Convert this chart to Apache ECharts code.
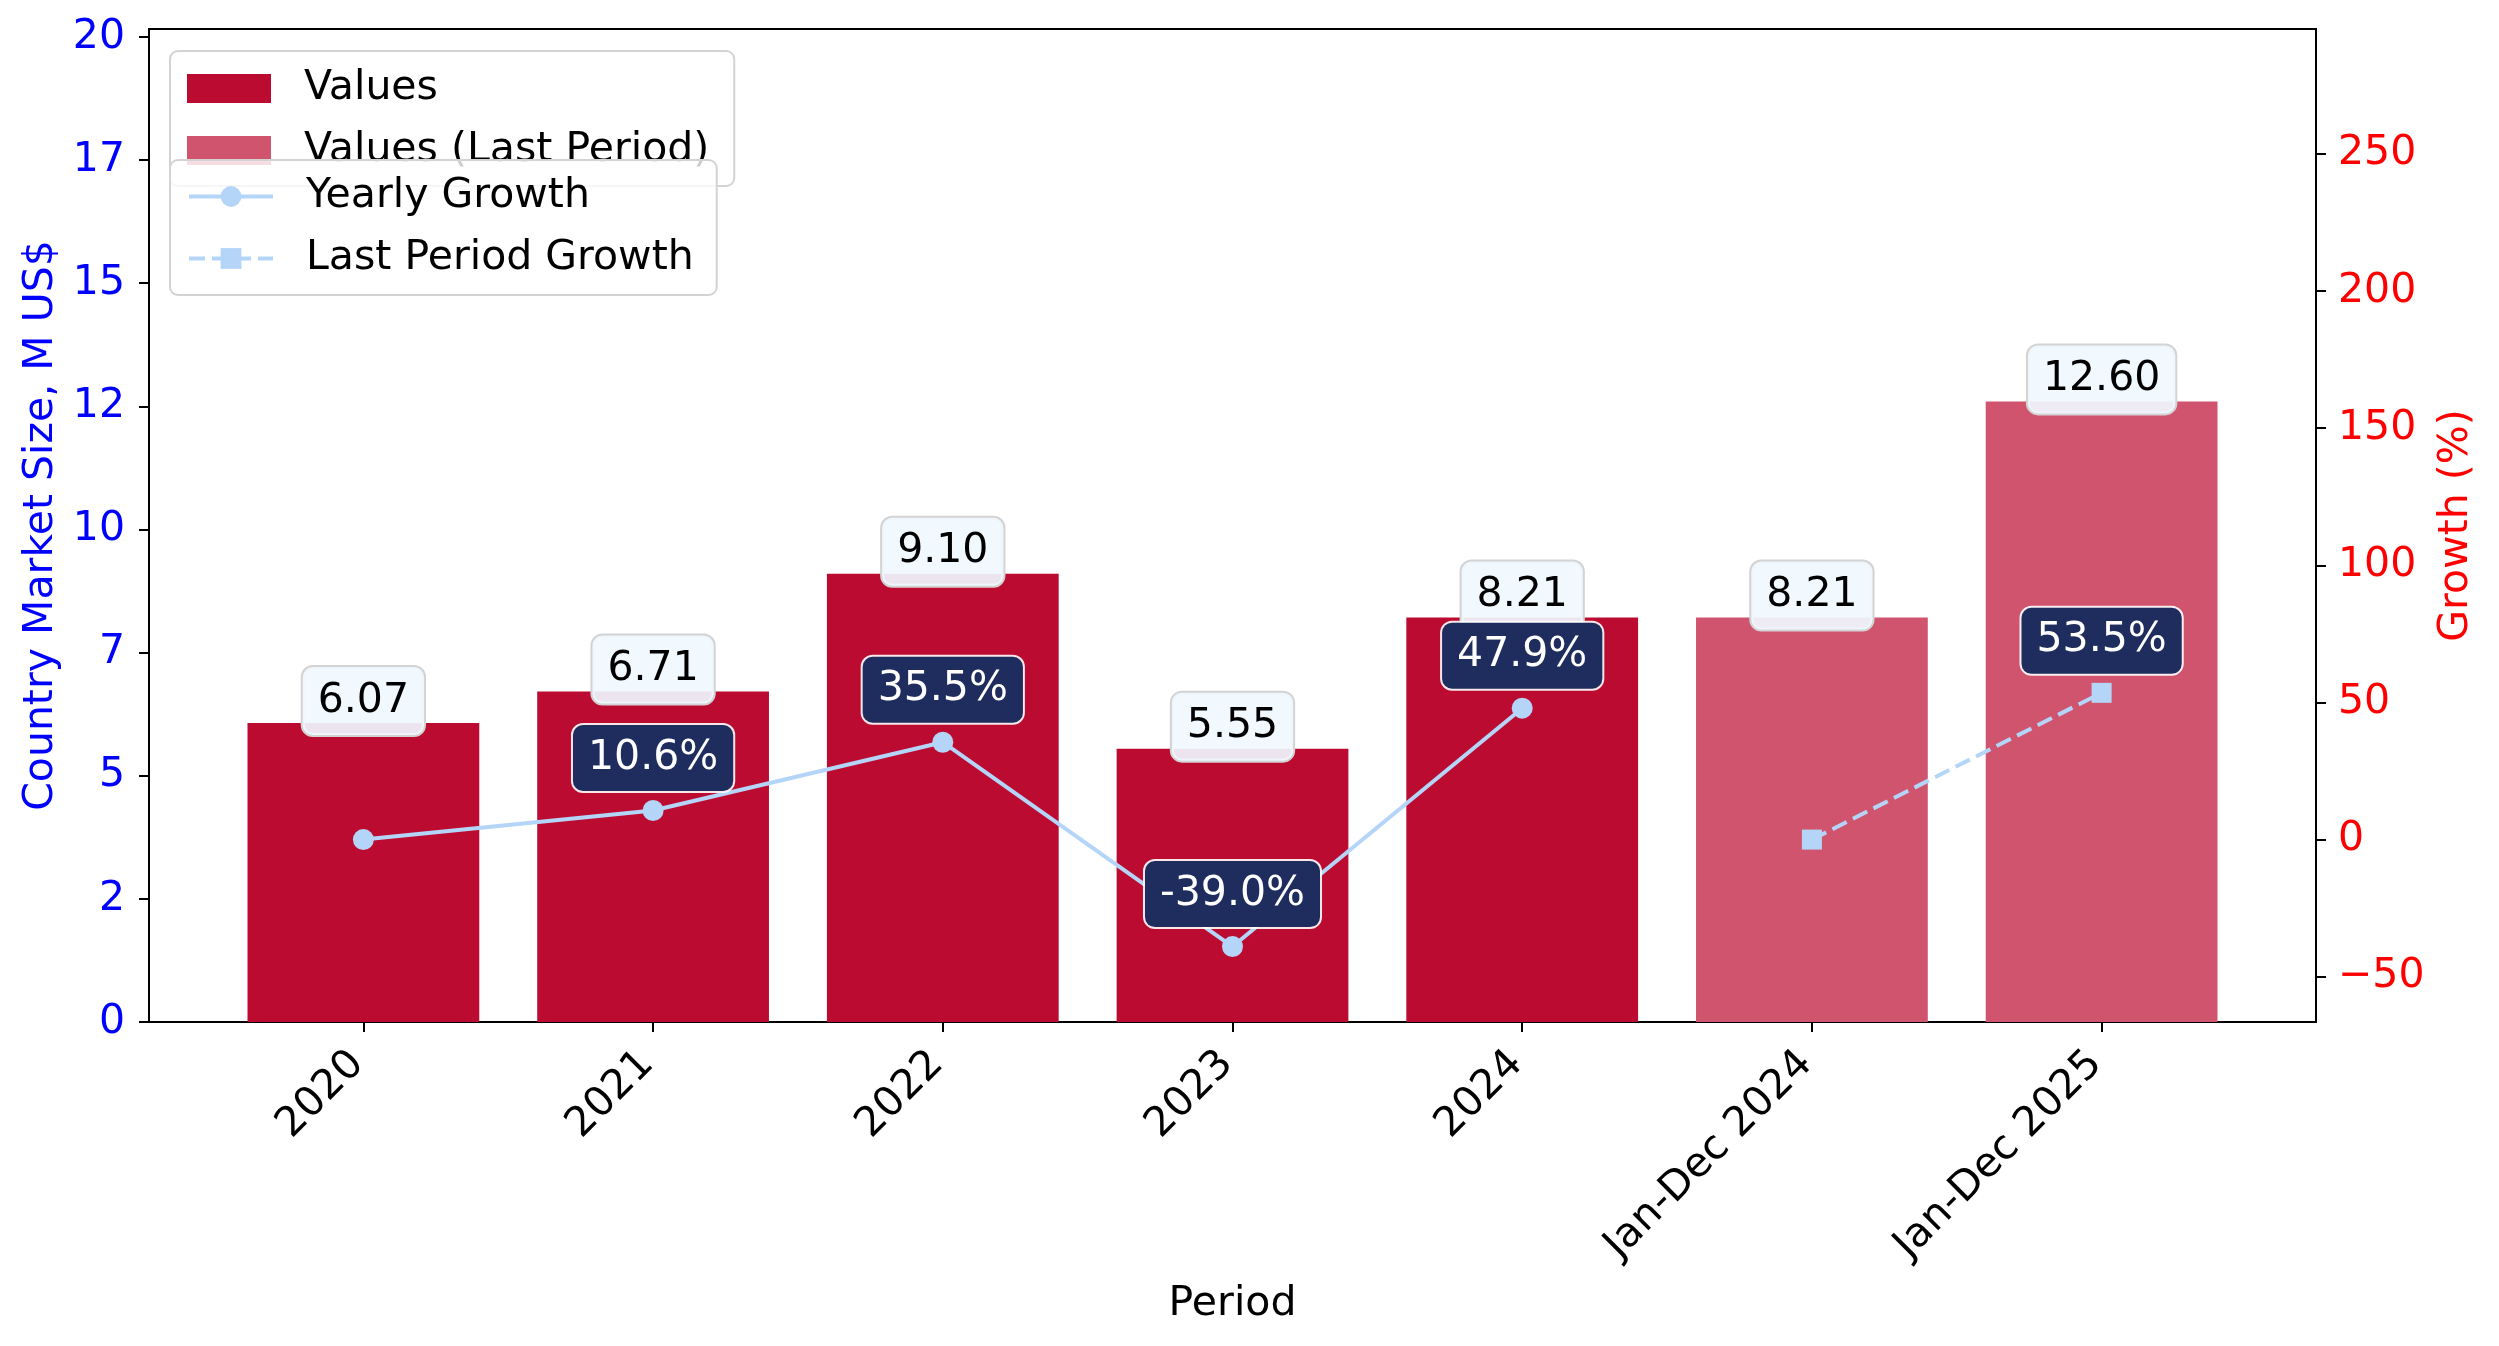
<!DOCTYPE html>
<html>
<head>
<meta charset="utf-8">
<title>Country Market Size</title>
<script src="https://cdn.jsdelivr.net/npm/echarts@6/dist/echarts.min.js"></script>
<style>
  html, body { margin: 0; padding: 0; background: #fff; }
  #chart { width: 2499px; height: 1346px; }
</style>
</head>
<body>
<div id="chart"></div>
<script>
// data
const periods = ['2020', '2021', '2022', '2023', '2024', 'Jan-Dec 2024', 'Jan-Dec 2025'];
const values = [6.07, 6.71, 9.10, 5.55, 8.21, null, null];
const lastValues = [null, null, null, null, null, 8.21, 12.60];
const yearlyGrowth = [0, 10.6, 35.5, -39.0, 47.9, null, null];
const lastGrowth = [null, null, null, null, null, 0, 53.5];
const leftTicks = [0, 2.5, 5, 7.5, 10, 12.5, 15, 17.5, 20];
const rightTicks = [-50, 0, 50, 100, 150, 200, 250];

const font = 'DejaVu Sans';
const colors = {
  bar: '#bc0b31',
  barLast: '#d0546e',
  line: '#b4d5f8',
  badge: '#1f2c5e',
  left: '#0000ff',
  right: '#ff0000'
};

// matplotlib-like x range: bars of width 0.8 plus 5% margins
const xMin = -0.74;
const xMax = periods.length - 1 + 0.74;
const grid = { left: 149, right: 183, top: 29, bottom: 324 };
const plotWidth = 2499 - grid.left - grid.right;
const barWidth = plotWidth / (xMax - xMin) * 0.8;

const toPairs = arr => arr
  .map((v, i) => (v == null ? null : [i, v]))
  .filter(d => d !== null);

const growthPoints = arr => toPairs(arr).map(d => ({
  value: d,
  label: { show: d[1] !== 0 }
}));

const valueLabel = {
  show: true,
  position: 'top',
  distance: -12,
  formatter: p => p.value[1].toFixed(2),
  fontFamily: font,
  fontSize: 41,
  lineHeight: 42,
  color: '#000',
  backgroundColor: 'rgba(240, 248, 255, 0.92)',
  borderColor: '#d3d3d3',
  borderWidth: 2,
  borderRadius: 10,
  padding: [13, 15]
};

const growthLabel = {
  position: 'top',
  distance: 9,
  formatter: p => p.value[1].toFixed(1) + '%',
  fontFamily: font,
  fontSize: 41,
  lineHeight: 42,
  color: '#fff',
  backgroundColor: colors.badge,
  borderColor: 'rgba(255, 255, 255, 0.9)',
  borderWidth: 2,
  borderRadius: 10,
  padding: [12, 15]
};

const legendText = { fontFamily: font, fontSize: 41, color: '#000', padding: [0, 0, 0, 28] };

const chart = echarts.init(document.getElementById('chart'));

const option = {
  backgroundColor: '#fff',
  animation: false,
  textStyle: { fontFamily: font },
  grid: {
    left: grid.left,
    right: grid.right,
    top: grid.top,
    bottom: grid.bottom,
    show: true,
    borderColor: '#000',
    borderWidth: 2,
    backgroundColor: 'transparent'
  },
  legend: [
    {
      data: ['Values', 'Values (Last Period)'],
      orient: 'vertical',
      left: 170,
      top: 51,
      z: 4,
      itemWidth: 84,
      itemHeight: 29,
      itemGap: 21,
      padding: [17, 25, 15, 17],
      backgroundColor: '#fff',
      borderColor: '#d3d3d3',
      borderWidth: 2,
      borderRadius: 8,
      icon: 'rect',
      textStyle: legendText
    },
    {
      data: ['Yearly Growth', 'Last Period Growth'],
      orient: 'vertical',
      left: 170,
      top: 160,
      z: 6,
      itemWidth: 84,
      itemHeight: 26,
      itemGap: 21,
      padding: [16, 23, 16, 17],
      backgroundColor: 'rgba(255, 255, 255, 0.8)',
      borderColor: '#d3d3d3',
      borderWidth: 2,
      borderRadius: 8,
      lineStyle: { width: 4 },
      textStyle: legendText
    }
  ],
  xAxis: {
    type: 'value',
    min: xMin,
    max: xMax,
    name: 'Period',
    nameLocation: 'middle',
    nameGap: 262,
    nameTextStyle: { fontFamily: font, fontSize: 41, color: '#000' },
    splitLine: { show: false },
    axisLine: { show: true, onZero: false, lineStyle: { color: '#000', width: 2 } },
    axisTick: {
      show: true,
      length: 10,
      lineStyle: { color: '#000', width: 2 },
      customValues: periods.map((p, i) => i)
    },
    axisLabel: {
      customValues: periods.map((p, i) => i),
      formatter: v => periods[Math.round(v)],
      rotate: 45,
      margin: 30,
      padding: [0, 8, 0, 0],
      fontFamily: font,
      fontSize: 41,
      color: '#000'
    }
  },
  yAxis: [
    {
      type: 'value',
      min: 0,
      max: 20.16,
      name: 'Country Market Size, M US$',
      nameLocation: 'middle',
      nameGap: 84,
      nameTextStyle: { fontFamily: font, fontSize: 41, color: colors.left },
      splitLine: { show: false },
      axisLine: { show: true, onZero: false, lineStyle: { color: '#000', width: 2 } },
      axisTick: {
        show: true,
        length: 10,
        lineStyle: { color: '#000', width: 2 },
        customValues: leftTicks
      },
      axisLabel: {
        customValues: leftTicks,
        formatter: v => String(Math.floor(v)),
        margin: 24,
        padding: [6, 0, 0, 0],
        fontFamily: font,
        fontSize: 41,
        color: colors.left
      }
    },
    {
      type: 'value',
      position: 'right',
      min: -66.5,
      max: 295.5,
      name: 'Growth (%)',
      nameLocation: 'middle',
      nameGap: 118,
      nameTextStyle: { fontFamily: font, fontSize: 41, color: colors.right },
      splitLine: { show: false },
      axisLine: { show: true, onZero: false, lineStyle: { color: '#000', width: 2 } },
      axisTick: {
        show: true,
        length: 10,
        lineStyle: { color: '#000', width: 2 },
        customValues: rightTicks
      },
      axisLabel: {
        customValues: rightTicks,
        formatter: v => (v < 0 ? '\u2212' + Math.abs(v) : String(v)),
        margin: 22,
        padding: [6, 0, 0, 0],
        fontFamily: font,
        fontSize: 41,
        color: colors.right
      }
    }
  ],
  series: [
    {
      name: 'Values',
      type: 'bar',
      data: toPairs(values),
      barWidth: barWidth,
      barGap: '-100%',
      itemStyle: { color: colors.bar },
      label: valueLabel,
      z: 2
    },
    {
      name: 'Values (Last Period)',
      type: 'bar',
      data: toPairs(lastValues),
      barWidth: barWidth,
      barGap: '-100%',
      itemStyle: { color: colors.barLast },
      label: valueLabel,
      z: 2
    },
    {
      name: 'Yearly Growth',
      type: 'line',
      yAxisIndex: 1,
      data: growthPoints(yearlyGrowth),
      symbol: 'circle',
      symbolSize: 21,
      itemStyle: { color: colors.line },
      lineStyle: { color: colors.line, width: 4 },
      label: growthLabel,
      z: 3
    },
    {
      name: 'Last Period Growth',
      type: 'line',
      yAxisIndex: 1,
      data: growthPoints(lastGrowth),
      symbol: 'rect',
      symbolSize: 20,
      itemStyle: { color: colors.line },
      lineStyle: { color: colors.line, width: 4, type: [16, 7] },
      label: growthLabel,
      z: 3
    }
  ]
};

chart.setOption(option);
window.addEventListener('resize', () => {
  chart.resize();
});
</script>
</body>
</html>
